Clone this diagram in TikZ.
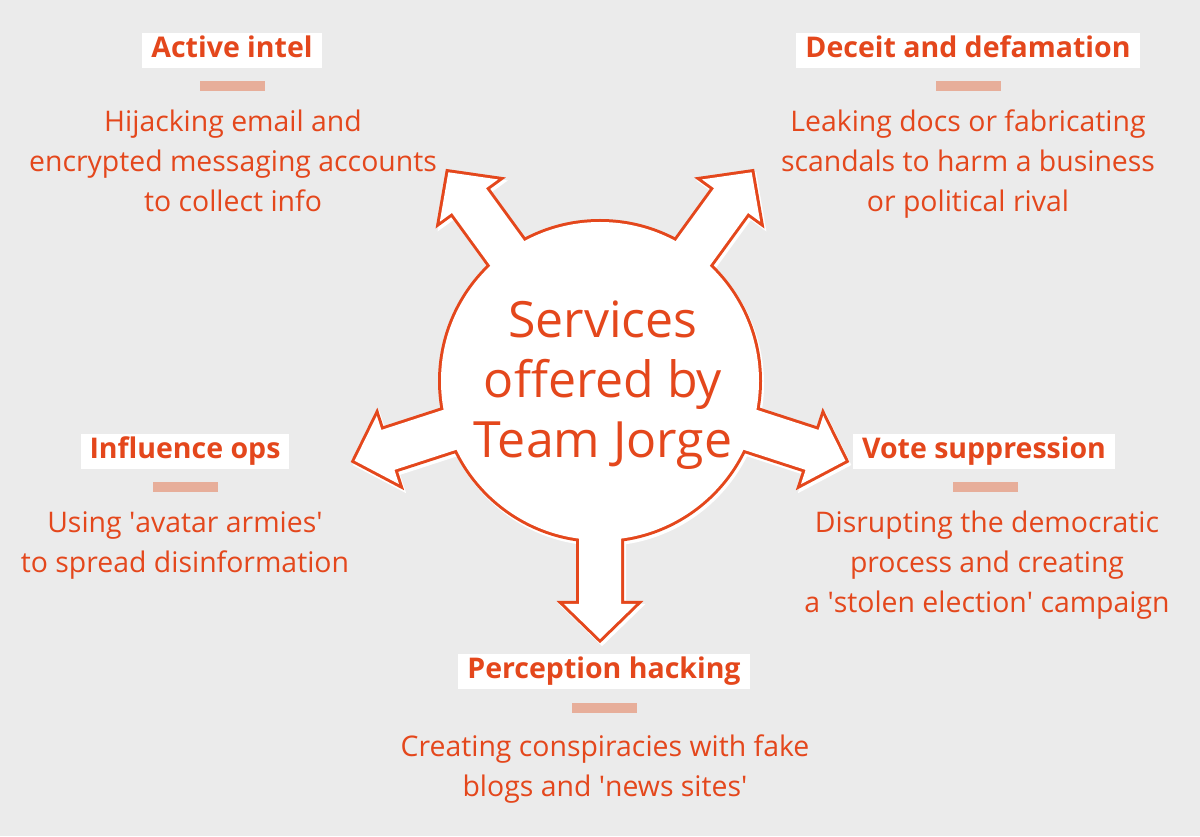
\documentclass[tikz,border=0pt]{standalone}
\usepackage{fontspec}
\setmainfont{Open Sans}
\definecolor{bg}{HTML}{EBEBEB}
\definecolor{jorange}{HTML}{E4471C}
\definecolor{jbar}{HTML}{E7AE9A}
\newcommand\jorgeshape[1]{%
  \path[#1] (600,455) circle (159pt);
  \foreach \a in {54,126,198,270,342}{%
    \path[#1, shift={(600,455)}, rotate=\a]
      (100,-21) -- (223,-21) -- (223,-36) -- (258,0) -- (223,36) -- (223,21) -- (100,21) -- cycle;
  }}
\newcommand\sq{\textquotesingle}
\tikzset{
  heading/.style={font=\bfseries\fontsize{28.5}{32}\selectfont, text=jorange, fill=white,
    anchor=base, inner xsep=9pt, inner ysep=4pt, text height=21pt, text depth=6pt},
  body/.style={font=\fontsize{28.4}{40}\selectfont, text=jorange, align=center, anchor=base, inner sep=0pt},
  barstyle/.style={fill=jbar, minimum width=65pt, minimum height=10pt, inner sep=0pt},
}
\begin{document}
\begin{tikzpicture}[x=1pt,y=1pt, line join=miter]
\fill[bg] (0,0) rectangle (1200,836);
\useasboundingbox (0,0) rectangle (1200,836);
% halo, outline, fill
\begin{scope}[shift={(2,-3)}]
\jorgeshape{fill=white, draw=white, line width=6pt}
\end{scope}
\jorgeshape{draw=jorange, line width=6pt}
\jorgeshape{fill=white}
% anchor=base of a multi-line node is the baseline of its last line
\node[font=\fontsize{50}{60}\selectfont, text=jorange, align=center, anchor=base, inner sep=0pt] (center) at (603,378)
  {Services\\offered by\\Team Jorge};
% Active intel
\node[heading] (h1) at (232,778) {Active intel};
\node[barstyle] (b1) at (232,749.5) {};
\node[body] (t1) at (233,624) {Hijacking email and\\encrypted messaging accounts\\to collect info};
% Deceit
\node[heading] (h2) at (968,778) {Deceit and defamation};
\node[barstyle] (b2) at (968,749.5) {};
\node[body] (t2) at (968,624) {Leaking docs or fabricating\\scandals to harm a business\\or political rival};
% Influence
\node[heading] (h3) at (185,377) {Influence ops};
\node[barstyle] (b3) at (185,349) {};
\node[body] (t3) at (185,263) {Using \sq avatar armies\sq\\to spread disinformation};
% Vote
\node[heading] (h4) at (984,377) {Vote suppression};
\node[barstyle] (b4) at (985,349) {};
\node[body] (t4) at (987,223) {Disrupting the democratic\\process and creating\\a \sq stolen election\sq\ campaign};
% Perception
\node[heading] (h5) at (604,157) {Perception hacking};
\node[barstyle] (b5) at (604,128) {};
\node[body] (t5) at (605,40) {Creating conspiracies with fake\\blogs and \sq news sites\sq};
\end{tikzpicture}
\end{document}
